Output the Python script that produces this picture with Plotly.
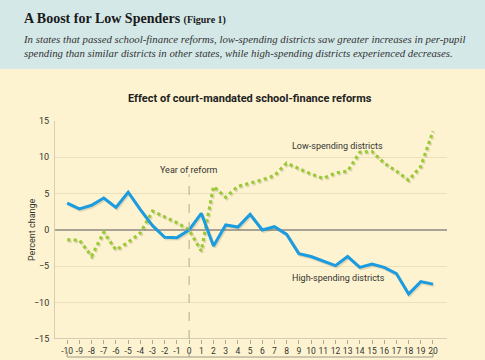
import plotly.graph_objects as go

years = list(range(-10, 21))
low_spending = [-1.35, -1.4, -3.6, -0.3, -2.75, -1.7, -0.4, 2.6, 1.8, 1.0, 0.0,
                -2.9, 6.0, 4.5, 6.0, 6.4, 6.9, 7.5, 9.2, 8.45, 7.7, 7.1, 7.85,
                8.1, 10.7, 10.8, 9.2, 8.1, 6.85, 8.75, 13.6]
high_spending = [3.7, 2.9, 3.4, 4.4, 3.1, 5.2, 2.8, 0.6, -1.0, -1.05, 0.0,
                 2.3, -2.2, 0.7, 0.4, 2.15, 0.0, 0.45, -0.6, -3.25, -3.65, -4.25,
                 -4.9, -3.65, -5.15, -4.7, -5.15, -6.0, -8.8, -7.1, -7.45]
y_ticks = [-15, -10, -5, 0, 5, 10, 15]

W, H = 485, 360
L, R, T, B = 55, 38, 121, 21
PW, PH = W - L - R, H - T - B

def px(x):
    return (x - L) / PW

def py(y):
    return (H - B - y) / PH

BG = "#fdf3d0"
HEADER = "#d4e8e8"
BLUE = "#1b9be0"
GREEN = "#9cc93a"
SHADOW = "rgba(120,105,70,0.2)"
TXT = "#333333"
SANS = "Roboto"
SERIF = "Liberation Serif"

# soft drop shadow: same series, nudged ~1.5px right/down
dx, dy = 0.1, -0.2

fig = go.Figure()
fig.add_trace(go.Scatter(x=[v + dx for v in years], y=[v + dy for v in low_spending],
                         mode="lines", line=dict(color=SHADOW, width=3.2, dash="dot"),
                         hoverinfo="skip", showlegend=False))
fig.add_trace(go.Scatter(x=[v + dx for v in years], y=[v + dy for v in high_spending],
                         mode="lines", line=dict(color=SHADOW, width=3),
                         hoverinfo="skip", showlegend=False))
fig.add_trace(go.Scatter(x=years, y=low_spending, mode="lines",
                         line=dict(color=GREEN, width=3.2, dash="dot"),
                         hoverinfo="skip", showlegend=False))
fig.add_trace(go.Scatter(x=years, y=high_spending, mode="lines",
                         line=dict(color=BLUE, width=3),
                         hoverinfo="skip", showlegend=False))

shapes = [
    dict(type="rect", xref="paper", yref="paper", x0=px(0), x1=px(W),
         y0=py(69), y1=py(0), fillcolor=HEADER, line=dict(width=0), layer="below"),
    dict(type="line", xref="x", yref="paper", x0=0, x1=0, y0=0, y1=py(174),
         line=dict(color="#b0a994", width=1, dash="dash")),
    dict(type="line", xref="x", yref="paper", x0=-10, x1=20, y0=py(357), y1=py(357),
         line=dict(color="#a09a88", width=1)),
]
for t in [-10, 0, 20]:
    shapes.append(dict(type="line", xref="x", yref="paper", x0=t, x1=t,
                       y0=py(357), y1=py(352), line=dict(color="#a09a88", width=1)))

annotations = [
    dict(xref="paper", yref="paper", x=px(22), y=py(19), xanchor="left", yanchor="middle",
         text="<b>A Boost for Low Spenders</b> <span style='font-size:10px'><b>(Figure 1)</b></span>",
         showarrow=False, font=dict(family=SERIF, size=14, color="#1a1a1a")),
    dict(xref="paper", yref="paper", x=px(21), y=py(46), xanchor="left", yanchor="middle",
         text="<i>In states that passed school-finance reforms, low-spending districts saw greater increases in per-pupil<br>"
              "spending than similar districts in other states, while high-spending districts experienced decreases.</i>",
         align="left", showarrow=False, font=dict(family=SERIF, size=10.8, color=TXT)),
    dict(xref="paper", yref="paper", x=px(250), y=py(98), xanchor="center", yanchor="middle",
         text="<b>Effect of court-mandated school-finance reforms</b>",
         showarrow=False, font=dict(family=SANS, size=11, color="#222222")),
    dict(xref="paper", yref="paper", x=px(32), y=py(230), xanchor="center", yanchor="middle",
         text="Percent change", textangle=-90, showarrow=False,
         font=dict(family=SANS, size=9, color=TXT)),
    dict(xref="x", yref="y", x=0, y=8.2, text="Year of reform", showarrow=False,
         xanchor="center", yanchor="middle", font=dict(family=SANS, size=9, color=TXT)),
    dict(xref="x", yref="y", x=12.2, y=11.6, text="Low-spending districts", showarrow=False,
         xanchor="center", yanchor="middle", font=dict(family=SANS, size=9, color=TXT)),
    dict(xref="x", yref="y", x=12.25, y=-6.6, text="High-spending districts", showarrow=False,
         xanchor="center", yanchor="middle", font=dict(family=SANS, size=9, color=TXT)),
]

fig.update_layout(
    width=W, height=H, margin=dict(l=L, r=R, t=T, b=B, pad=0, autoexpand=False),
    paper_bgcolor=BG, plot_bgcolor=BG,
    shapes=shapes, annotations=annotations,
    xaxis=dict(range=[-11, 21.15], tickmode="array", tickvals=years,
               ticktext=[str(v) for v in years], showgrid=False, zeroline=False,
               showline=False, ticks="outside", ticklen=4, tickcolor="#b0a994",
               tickfont=dict(family=SANS, size=8.5, color=TXT), ticklabelstandoff=0,
               automargin=False, fixedrange=True),
    yaxis=dict(range=[-15, 15], tickvals=y_ticks, showgrid=True, gridcolor="#ebe0bb",
               gridwidth=1, zeroline=True, zerolinecolor="#aaa294", zerolinewidth=1.5,
               showline=True, linecolor="#d8cfb0", linewidth=1,
               tickfont=dict(family=SANS, size=9, color=TXT), ticklabelstandoff=3,
               automargin=False, fixedrange=True),
)
fig.add_hline(y=-15, line=dict(color="#b0a994", width=1.2))

fig.write_html("out.html", config={"displayModeBar": False},
               post_script="document.body.style.margin='0';document.body.style.background='" + BG + "';")
